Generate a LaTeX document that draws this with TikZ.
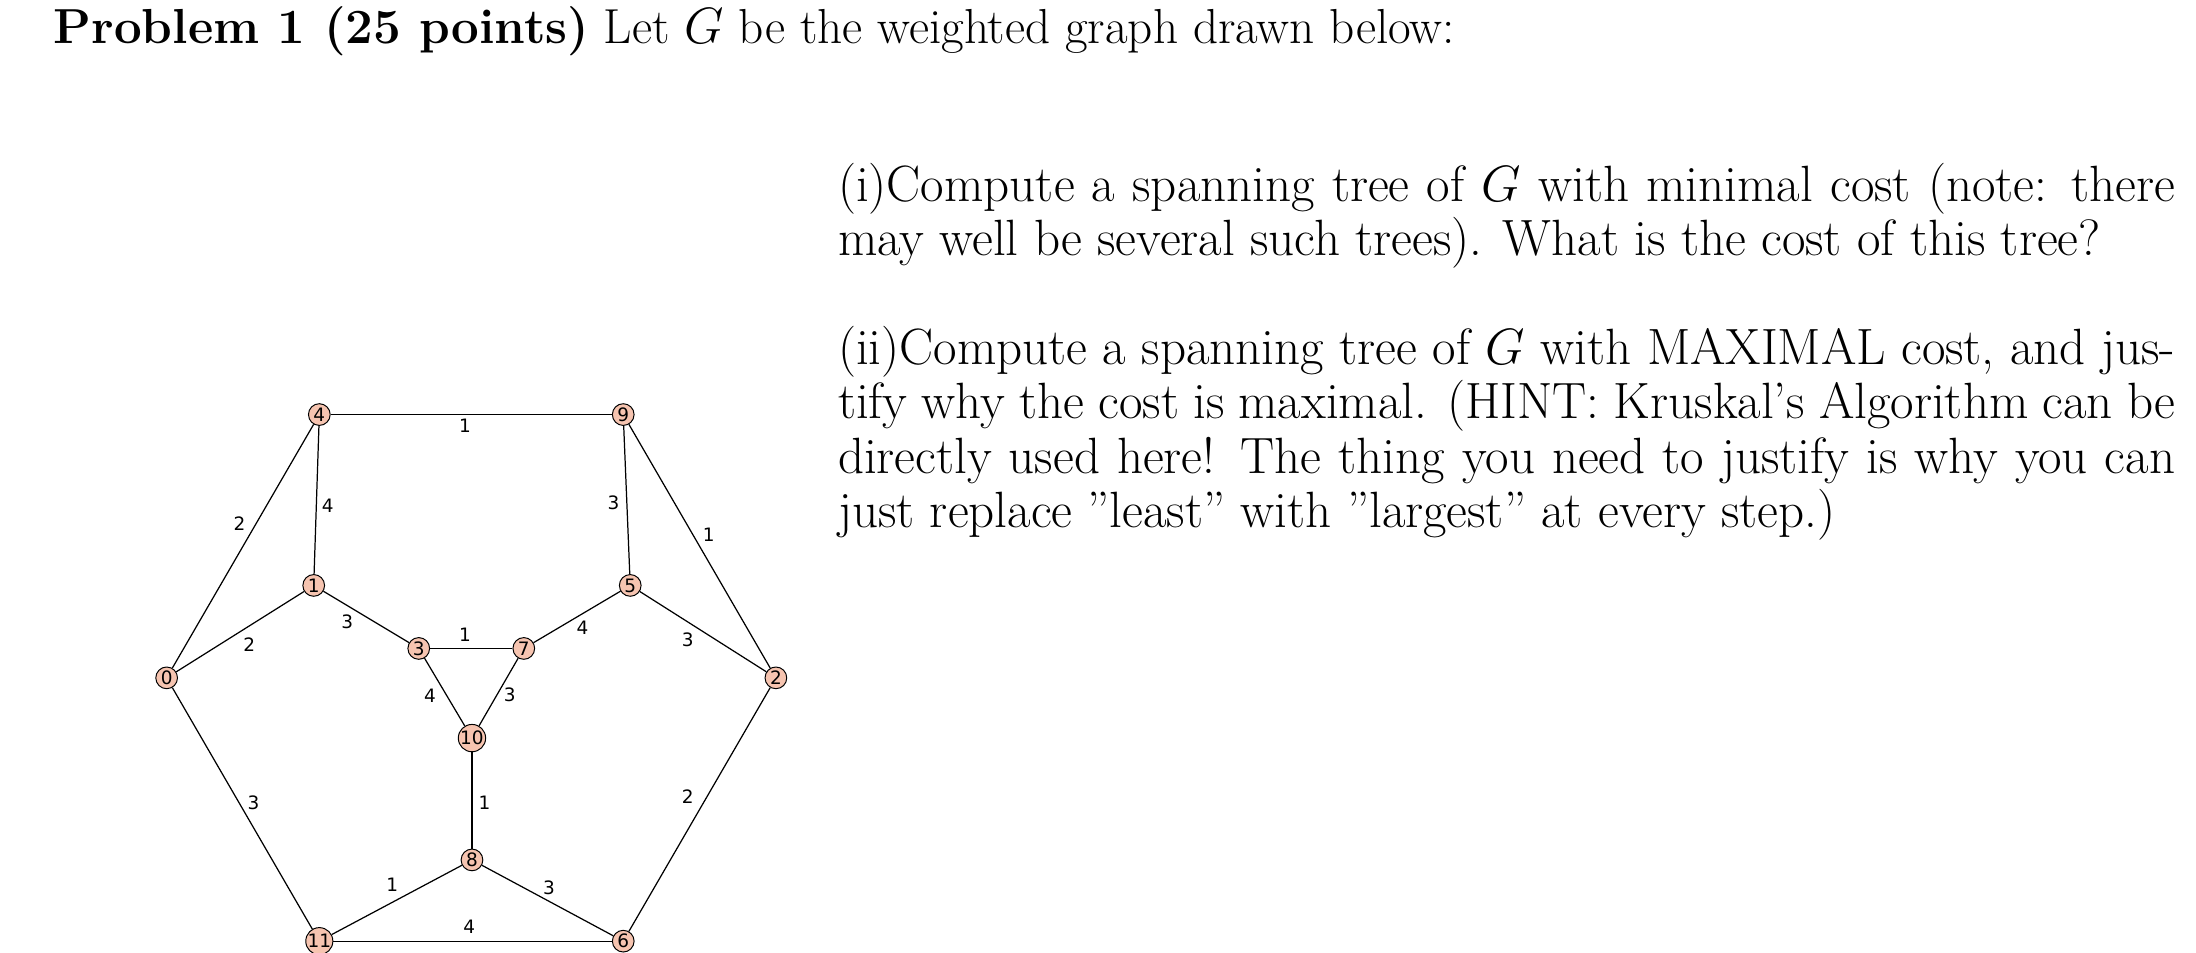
\documentclass[tikz,border=0pt]{standalone}
\usepackage{fontspec}
\newfontfamily\dv{DejaVu Sans}
\begin{document}
\begin{tikzpicture}[x=0.02cm,y=-0.02cm,
  vtx/.style={circle,draw,fill={rgb,255:red,246;green,196;blue,176},inner sep=0pt,minimum size=0.31cm,font=\dv\fontsize{7.5}{8}\selectfont},
  wt/.style={font=\dv\fontsize{7.5}{8}\selectfont,inner sep=0pt},
  edge/.style={draw,line width=0.5pt}]
\useasboundingbox (0,0) rectangle (1568,680);
\clip (0,0) rectangle (1568,680);
\node[anchor=west,inner sep=0pt,font=\fontsize{20}{22}\selectfont] (title) at (38,22) {\textbf{Problem 1 (25 points)} Let $G$ be the weighted graph drawn below:};
\node[anchor=north west,inner sep=0pt,text width=19.1cm,align=justify,font=\fontsize{20.74}{22.1}\selectfont] (txt) at (598,116) {(i)Compute a spanning tree of $G$ with minimal cost (note: there may well be several such trees). What is the cost of this tree?\par\vspace{22.1pt}
(ii)Compute a spanning tree of $G$ with MAXIMAL cost, and justify why the cost is maximal. (HINT: Kruskal's Algorithm can be directly used here! The thing you need to justify is why you can just replace ''least'' with ''largest'' at every step.)\par};
\node[vtx] (n4) at (228,296) {4};
\node[vtx] (n9) at (445,296) {9};
\node[vtx] (n1) at (224,418) {1};
\node[vtx] (n5) at (450,418) {5};
\node[vtx] (n3) at (299,463) {3};
\node[vtx] (n7) at (374,463) {7};
\node[vtx] (n0) at (119,484) {0};
\node[vtx] (n2) at (554,484) {2};
\node[vtx] (n10) at (337,527) {10};
\node[vtx] (n8) at (337,614) {8};
\node[vtx] (n11) at (228,672) {11};
\node[vtx] (n6) at (445,672) {6};
\foreach \a/\b in {n4/n9,n0/n4,n4/n1,n9/n5,n9/n2,n0/n1,n1/n3,n3/n7,n7/n5,n5/n2,n3/n10,n7/n10,n10/n8,n0/n11,n2/n6,n11/n8,n8/n6,n11/n6}
  \draw[edge] (\a) -- (\b);
\node[wt] (w1) at (332,304) {1};
\node[wt] (w2) at (171,374) {2};
\node[wt] (w3) at (234,361) {4};
\node[wt] (w4) at (438,359) {3};
\node[wt] (w5) at (506,382) {1};
\node[wt] (w6) at (178,460) {2};
\node[wt] (w7) at (248,444) {3};
\node[wt] (w8) at (332,453) {1};
\node[wt] (w9) at (416,448) {4};
\node[wt] (w10) at (491,457) {3};
\node[wt] (w11) at (307,497) {4};
\node[wt] (w12) at (364,496) {3};
\node[wt] (w13) at (346,573) {1};
\node[wt] (w14) at (181,573) {3};
\node[wt] (w15) at (491,569) {2};
\node[wt] (w16) at (280,632) {1};
\node[wt] (w17) at (392,634) {3};
\node[wt] (w18) at (335,662) {4};
\end{tikzpicture}
\end{document}
